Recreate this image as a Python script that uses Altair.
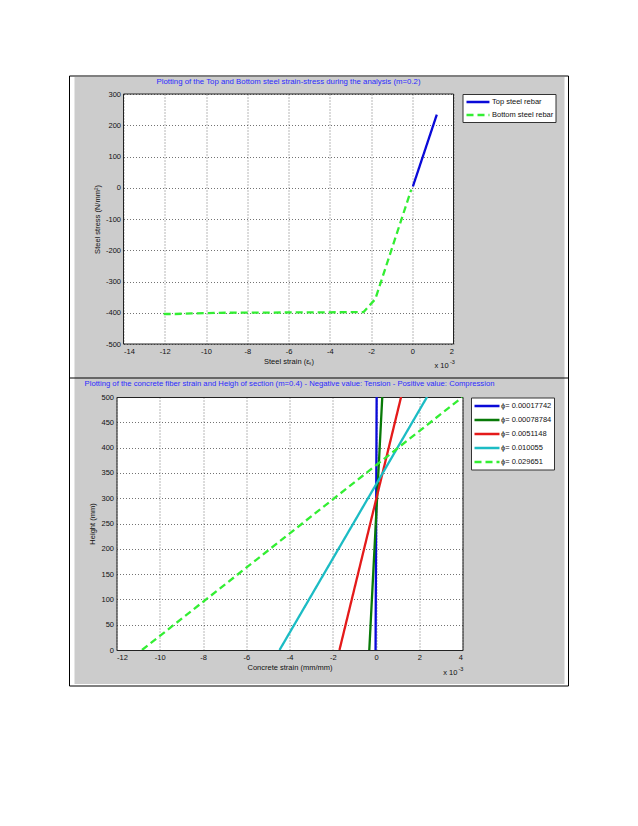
import altair as alt
import pandas as pd

FONT = "Liberation Sans"

# ---------------- Top panel data (strain in units of 1e-3, stress in N/mm2)
steel_series = ["Top steel rebar", "Bottom steel rebar"]
top_rebar_strain = [0.03, 1.19]
top_rebar_stress = [4, 234]
bottom_rebar_strain = [-12.05, -11.5, -10.7, -9.0, -2.36, -1.79, -0.05]
bottom_rebar_stress = [-404, -404, -402, -400, -398, -356, -6]
steel_colors = ["#0a0ad8", "#33ee33"]
steel_dash = [[1, 0], [7, 4]]
top_x_ticks = [-14, -12, -10, -8, -6, -4, -2, 0, 2]
top_y_ticks = [-500, -400, -300, -200, -100, 0, 100, 200, 300]

# ---------------- Bottom panel data (strain in units of 1e-3, height in mm)
phi_labels = ["ϕ= 0.00017742", "ϕ= 0.00078784", "ϕ= 0.0051148",
              "ϕ= 0.010055", "ϕ= 0.029651"]
section_heights = [0, 500]
strain_at_bottom = [-0.02, -0.31, -1.69, -4.46, -10.82]
strain_at_top = [0.03, 0.29, 1.16, 2.36, 4.0]
phi_colors = ["#0a0ad8", "#087a08", "#e41a1a", "#1cbcc4", "#33ee33"]
phi_dash = [[1, 0], [1, 0], [1, 0], [1, 0], [7, 4]]
bot_x_ticks = [-12, -10, -8, -6, -4, -2, 0, 2, 4]
bot_y_ticks = [0, 50, 100, 150, 200, 250, 300, 350, 400, 450, 500]

rows = []
for i, (x, y) in enumerate(zip(top_rebar_strain, top_rebar_stress)):
    rows.append({"series": steel_series[0], "strain": x, "stress": y, "i": i})
for i, (x, y) in enumerate(zip(bottom_rebar_strain, bottom_rebar_stress)):
    rows.append({"series": steel_series[1], "strain": x, "stress": y, "i": i})
df_top = pd.DataFrame(rows)

rows = []
for k, lab in enumerate(phi_labels):
    rows.append({"phi": lab, "strain": strain_at_bottom[k], "h": section_heights[0], "i": 0})
    rows.append({"phi": lab, "strain": strain_at_top[k], "h": section_heights[1], "i": 1})
df_bot = pd.DataFrame(rows)

one = pd.DataFrame({"k": [0]})

axis_common = dict(
    labelFont=FONT, labelFontSize=7.5, labelColor="#111",
    titleFont=FONT, titleFontSize=7.5, titleColor="#111", titleFontWeight="normal",
    ticks=False, tickSize=0, domain=False, grid=True, gridColor="#222",
    gridDash=[1, 2], gridOpacity=0.8, gridWidth=0.8, labelPadding=3,
    labelExpr="'' + datum.value",
)


def make_legend(x, y, size, path, label_offset, sym_offset):
    return alt.Legend(
        title=None, orient="none", legendX=x, legendY=y,
        fillColor="white", strokeColor="#333", padding=2, cornerRadius=0,
        symbolType=path, symbolSize=size, symbolStrokeWidth=2.5,
        symbolOffset=sym_offset, labelOffset=label_offset,
        labelFont=FONT, labelFontSize=7.5, labelColor="#111", rowPadding=2,
    )


# ---------------- Background / frame row (drawn first, origin at page (116, 39))
border = alt.Chart(one).mark_rect(fill="white", stroke="#000", strokeWidth=1).encode(
    x=alt.value(-47), x2=alt.value(452), y=alt.value(36), y2=alt.value(646))
gray = alt.Chart(one).mark_rect(fill="#cccccc").encode(
    x=alt.value(-42), x2=alt.value(448), y=alt.value(37), y2=alt.value(644))
sep = alt.Chart(one).mark_rule(color="#000", strokeWidth=1).encode(
    x=alt.value(-47), x2=alt.value(452), y=alt.value(338))
top_frame = alt.Chart(one).mark_rect(fill="white", stroke="#222", strokeWidth=1).encode(
    x=alt.value(7), x2=alt.value(337), y=alt.value(54), y2=alt.value(304))
bg_row = alt.layer(border, gray, sep, top_frame).properties(width=337, height=1)

# ---------------- Top chart (plot area occupies x 7..337 of its group)
leg_top = make_legend(346, 0, 81, "M-1,0H4.1", 15, 0.5)
top_lines = alt.Chart(df_top).mark_line(strokeWidth=2.3, clip=True).encode(
    x=alt.X("strain:Q", title="Steel strain (εₛ)",
            scale=alt.Scale(domain=[-14, 2], nice=False, range=[7, 337]),
            axis=alt.Axis(values=top_x_ticks, titlePadding=3, **axis_common)),
    y=alt.Y("stress:Q", title="Steel stress (N/mm²)",
            scale=alt.Scale(domain=[-500, 300], nice=False),
            axis=alt.Axis(values=top_y_ticks, titlePadding=4, offset=-7, **axis_common)),
    color=alt.Color("series:N", scale=alt.Scale(domain=steel_series, range=steel_colors), legend=leg_top),
    strokeDash=alt.StrokeDash("series:N", scale=alt.Scale(domain=steel_series, range=steel_dash), legend=leg_top),
    order="i:Q",
)
sci_top = alt.Chart(one).mark_text(text="x 10", align="left", baseline="middle",
                                   font=FONT, fontSize=7.5, color="#111").encode(
    x=alt.value(318), y=alt.value(272))
sup_top = alt.Chart(one).mark_text(text="-3", align="left", baseline="middle",
                                   font=FONT, fontSize=5.5, color="#111").encode(
    x=alt.value(333.5), y=alt.value(268))
top_chart = alt.layer(top_lines, sci_top, sup_top).properties(
    width=337, height=250,
    view=alt.ViewBackground(stroke="transparent"),
    title=alt.TitleParams(
        "Plotting of the Top  and Bottom steel strain-stress during the analysis (m=0.2)",
        font=FONT, fontSize=7.8, fontWeight="normal", color="#2b2bff",
        anchor="middle", frame="group", offset=4, dx=3.5),
)

# ---------------- Bottom chart
leg_bot = make_legend(354.5, 0.5, 100, "M-1,0H4", 15, 0)
bot_lines = alt.Chart(df_bot).mark_line(strokeWidth=2.3, clip=True).encode(
    x=alt.X("strain:Q", title="Concrete strain (mm/mm)",
            scale=alt.Scale(domain=[-12, 4], nice=False),
            axis=alt.Axis(values=bot_x_ticks, titlePadding=3, **axis_common)),
    y=alt.Y("h:Q", title="Height (mm)",
            scale=alt.Scale(domain=[0, 500], nice=False),
            axis=alt.Axis(values=bot_y_ticks, titlePadding=4.5, **axis_common)),
    color=alt.Color("phi:N", scale=alt.Scale(domain=phi_labels, range=phi_colors), legend=leg_bot),
    strokeDash=alt.StrokeDash("phi:N", scale=alt.Scale(domain=phi_labels, range=phi_dash), legend=leg_bot),
    order="i:Q",
)
sci_bot = alt.Chart(one).mark_text(text="x 10", align="left", baseline="middle",
                                   font=FONT, fontSize=7.5, color="#111").encode(
    x=alt.value(326.7), y=alt.value(275.7))
sup_bot = alt.Chart(one).mark_text(text="-3", align="left", baseline="middle",
                                   font=FONT, fontSize=5.5, color="#111").encode(
    x=alt.value(342), y=alt.value(272))
bot_chart = alt.layer(bot_lines, sci_bot, sup_bot).properties(
    width=346, height=253,
    view=alt.ViewBackground(fill="white", stroke="#222", strokeWidth=1),
    title=alt.TitleParams(
        "Plotting of the concrete fiber strain and Heigh of section (m=0.4) - Negative value: Tension - Positive value: Compression",
        font=FONT, fontSize=7.7, fontWeight="normal", color="#2b2bff",
        anchor="middle", frame="group", offset=5.5),
)

chart = alt.vconcat(bg_row, top_chart, bot_chart, spacing=53, bounds="flush").resolve_scale(
    x="independent", y="independent", color="independent", strokeDash="independent"
).properties(
    padding={"left": 60.5, "top": 31, "right": 5, "bottom": 5},
    background="white",
).configure_view(stroke="transparent")

chart.save("out.html", embed_options={"renderer": "svg", "actions": False})
